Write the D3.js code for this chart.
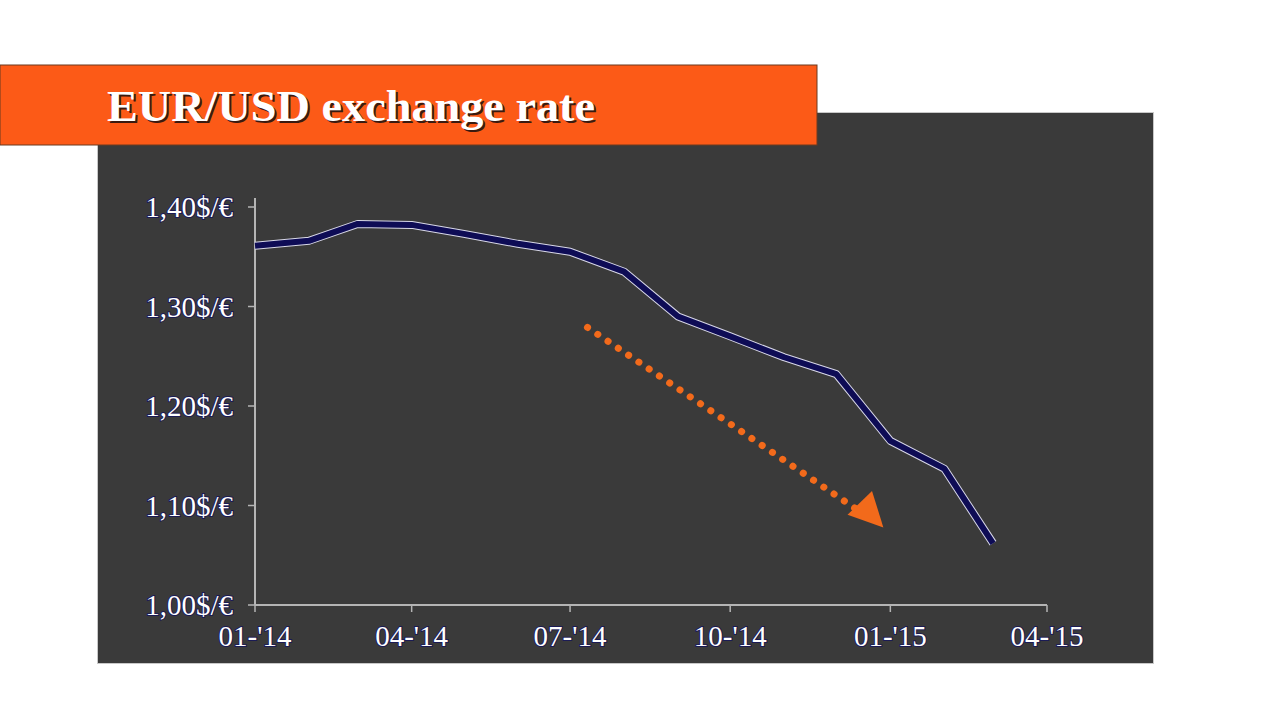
<!DOCTYPE html>
<html>
<head>
<meta charset="utf-8">
<script src="https://cdn.jsdelivr.net/npm/d3@7"></script>
<style>
  body { margin: 0; background: #fff; }
  svg { display: block; }
  .lbl { font-family: "Liberation Serif", "DejaVu Serif", serif; font-size: 29px;
         fill: #fff; stroke: #1b1b55; stroke-width: 2px; paint-order: stroke; }
</style>
</head>
<body>
<div id="chart"></div>
<script>
// monthly EUR/USD values, Jan 2014 - Mar 2015
var months = ["2014-01","2014-02","2014-03","2014-04","2014-05","2014-06","2014-07",
              "2014-08","2014-09","2014-10","2014-11","2014-12","2015-01","2015-02","2015-03"];
var rates = [1.361, 1.366, 1.383, 1.382, 1.373, 1.363, 1.355,
             1.335, 1.290, 1.270, 1.249, 1.232, 1.165, 1.137, 1.062];

var yTicks = [1.00, 1.10, 1.20, 1.30, 1.40];
var xTicks = ["2014-01","2014-04","2014-07","2014-10","2015-01","2015-04"];
var xTickLabels = ["01-'14","04-'14","07-'14","10-'14","01-'15","04-'15"];

// trend arrow annotation: [date, rate]
var arrowFrom = ["2014-07-11", 1.279];
var arrowTo = ["2014-12-28", 1.078];

var width = 1280, height = 720;
var parse = d3.timeParse("%Y-%m");
var parseDay = d3.timeParse("%Y-%m-%d");

var svg = d3.select("#chart").append("svg")
	.attr("width", width)
	.attr("height", height);

// dark panel
svg.append("rect")
	.attr("x", 97.5).attr("y", 112.5)
	.attr("width", 1056).attr("height", 551)
	.attr("fill", "#3a3a3a")
	.attr("stroke", "#c8c8c8").attr("stroke-width", 1);

// orange title banner
svg.append("rect")
	.attr("x", 0).attr("y", 65)
	.attr("width", 817).attr("height", 80)
	.attr("fill", "#fc5a17")
	.attr("stroke", "#6b3a20").attr("stroke-width", 1);

svg.append("text")
	.attr("x", 109).attr("y", 123)
	.attr("font-family", "Liberation Serif, DejaVu Serif, serif")
	.attr("font-weight", "bold")
	.attr("font-size", 45)
	.attr("fill", "#3a1a10")
	.attr("textLength", 488).attr("lengthAdjust", "spacingAndGlyphs")
	.text("EUR/USD exchange rate");
svg.append("text")
	.attr("x", 107).attr("y", 121)
	.attr("font-family", "Liberation Serif, DejaVu Serif, serif")
	.attr("font-weight", "bold")
	.attr("font-size", 45)
	.attr("fill", "#fff")
	.attr("textLength", 488).attr("lengthAdjust", "spacingAndGlyphs")
	.text("EUR/USD exchange rate");

// scales
var x = d3.scaleTime()
	.domain([parse("2014-01"), parse("2015-04")])
	.range([255, 1047]);
var y = d3.scaleLinear()
	.domain([1.0, 1.4])
	.range([605, 207]);

// axes
var g = svg.append("g");
g.append("line")
	.attr("x1", x.range()[0]).attr("x2", x.range()[1])
	.attr("y1", y(1.0)).attr("y2", y(1.0))
	.attr("stroke", "#b4b4b4").attr("stroke-width", 2);
g.append("line")
	.attr("x1", x.range()[0]).attr("x2", x.range()[0])
	.attr("y1", y(1.0)).attr("y2", 198)
	.attr("stroke", "#b4b4b4").attr("stroke-width", 2);

g.selectAll(".ytick").data(yTicks).enter().append("line")
	.attr("x1", 248).attr("x2", 255)
	.attr("y1", function(d) { return y(d); })
	.attr("y2", function(d) { return y(d); })
	.attr("stroke", "#b4b4b4").attr("stroke-width", 1.5);

g.selectAll(".xtick").data(xTicks).enter().append("line")
	.attr("x1", function(d) { return x(parse(d)); })
	.attr("x2", function(d) { return x(parse(d)); })
	.attr("y1", 605).attr("y2", 612)
	.attr("stroke", "#b4b4b4").attr("stroke-width", 1.5);

g.selectAll(".ylbl").data(yTicks).enter().append("text")
	.attr("class", "lbl")
	.attr("x", 233)
	.attr("y", function(d) { return y(d) + 10; })
	.attr("text-anchor", "end")
	.text(function(d) { return d3.format(".2f")(d).replace(".", ",") + "$/€"; });

g.selectAll(".xlbl").data(xTicks).enter().append("text")
	.attr("class", "lbl")
	.attr("x", function(d) { return x(parse(d)); })
	.attr("y", 646)
	.attr("text-anchor", "middle")
	.text(function(d, i) { return xTickLabels[i]; });

// rate line
var data = months.map(function(m, i) { return { date: parse(m), rate: rates[i] }; });
var line = d3.line()
	.x(function(d) { return x(d.date); })
	.y(function(d) { return y(d.rate); });

svg.append("path")
	.datum(data)
	.attr("d", line)
	.attr("fill", "none")
	.attr("stroke", "#d8d8e8")
	.attr("stroke-width", 8)
	.attr("stroke-linejoin", "round");
svg.append("path")
	.datum(data)
	.attr("d", line)
	.attr("fill", "none")
	.attr("stroke", "#0e0c55")
	.attr("stroke-width", 6)
	.attr("stroke-linejoin", "round");

// dotted trend arrow
var ax1 = x(parseDay(arrowFrom[0])), ay1 = y(arrowFrom[1]);
var ax2 = x(parseDay(arrowTo[0])), ay2 = y(arrowTo[1]);
var ang = Math.atan2(ay2 - ay1, ax2 - ax1);
var headLen = 34;

svg.append("line")
	.attr("x1", ax1).attr("y1", ay1)
	.attr("x2", ax2 - Math.cos(ang) * headLen * 0.8)
	.attr("y2", ay2 - Math.sin(ang) * headLen * 0.8)
	.attr("stroke", "#f26a1b")
	.attr("stroke-width", 7)
	.attr("stroke-linecap", "round")
	.attr("stroke-dasharray", "0.1,12.3");

var head = [[0, 0], [-headLen, -17], [-headLen, 17]];
svg.append("polygon")
	.attr("points", head.map(function(p) { return p.join(","); }).join(" "))
	.attr("transform", "translate(" + ax2 + "," + ay2 + ") rotate(" + (ang * 180 / Math.PI + 12) + ")")
	.attr("fill", "#f26a1b");
</script>
</body>
</html>
